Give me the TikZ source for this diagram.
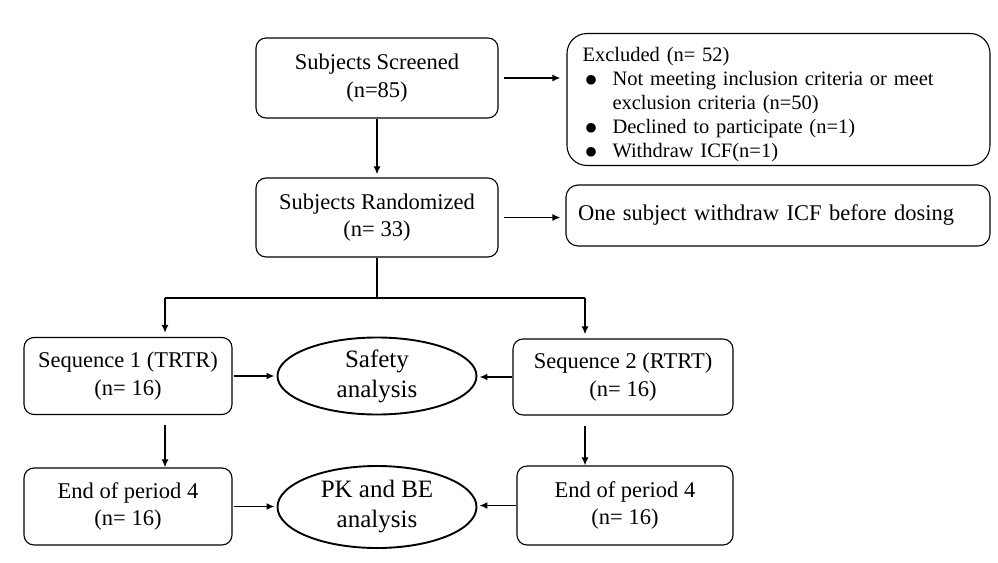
\documentclass[tikz,border=0pt]{standalone}
\usepackage{fontspec}
\setmainfont{Liberation Serif}
\usetikzlibrary{arrows.meta,shapes.geometric}

\newcommand{\bul}{\makebox[30pt][l]{\hspace*{2pt}\raisebox{-8pt}{\fontsize{40}{24}\selectfont\textbullet}}}

\begin{document}
\begin{tikzpicture}[x=1pt,y=-1pt,
  box/.style={draw,line width=1.1pt,rounded corners=10pt,align=center,inner sep=0pt,
    font=\fontsize{22.5}{27.5}\selectfont},
  lift/.style={execute at begin node={\rule{0pt}{#1}}},
  oval/.style={draw,ellipse,line width=1.9pt,align=center,inner sep=0pt,
    font=\fontsize{25}{30}\selectfont,lift=25pt},
  arr/.style={line width=1.6pt,-{Latex[length=8pt,width=7pt]}},
  link/.style={line width=1.6pt}]
  \useasboundingbox (0,0) rectangle (998,562);
  \node[box,lift=24pt,minimum width=242pt,minimum height=80pt] (scr) at (377,78) {Subjects Screened\\(n=85)};
  \node[box,minimum width=423pt,minimum height=125pt,rounded corners=20pt,text width=392pt,align=left,
    font=\fontsize{20.5}{24}\selectfont,lift=28pt] (exc) at (778.5,99.5)
    {Excluded (n= 52)\\
     \bul Not meeting inclusion criteria or meet\\
     \hspace*{30pt}exclusion criteria (n=50)\\
     \bul Declined to participate (n=1)\\
     \bul Withdraw ICF(n=1)};
  \node[box,lift=24pt,minimum width=242pt,minimum height=79pt] (rnd) at (377,217.5) {Subjects Randomized\\(n= 33)};
  \node[box,minimum width=424pt,minimum height=61pt,rounded corners=12pt,text width=400pt,align=left]
    (wdr) at (778,215.5) {One subject withdraw ICF before dosing};
  \node[box,lift=23pt,minimum width=208pt,minimum height=77pt] (seq1) at (128,376) {Sequence 1 (TRTR)\\(n= 16)};
  \node[box,lift=23pt,minimum width=220pt,minimum height=76pt] (seq2) at (623,377) {Sequence 2 (RTRT)\\(n= 16)};
  \node[oval,minimum width=199pt,minimum height=77pt] (saf) at (377,376) {Safety\\analysis};
  \node[box,lift=23pt,minimum width=208pt,minimum height=77pt] (end1) at (128,506.5) {End of period 4\\(n= 16)};
  \node[box,lift=23pt,minimum width=216pt,minimum height=79pt] (end2) at (625,505.5) {End of period 4\\(n= 16)};
  \node[oval,minimum width=199pt,minimum height=82pt] (pk) at (377,507) {PK and BE\\analysis};
  \coordinate (br) at (377,298);
  \coordinate (b1) at (165,298);
  \coordinate (b2) at (585,298);
  \draw[arr,shorten <=5pt,shorten >=6pt] (scr.east) -- (scr.east -| exc.west);
  \draw[arr,shorten >=3pt] (scr) -- (rnd);
  \draw[arr,shorten <=5pt,shorten >=5pt] (rnd.east) -- (rnd.east -| wdr.west);
  \draw[link] (rnd) -- (br);
  \draw[link] (b1) -- (b2);
  \draw[arr,shorten >=4pt] (b1) -- (b1 |- seq1.north);
  \draw[arr,shorten >=4pt] (b2) -- (b2 |- seq2.north);
  \draw[arr,shorten <=10pt] (b1 |- seq1.south) -- (b1 |- end1.north);
  \draw[arr,shorten <=10pt] (b2 |- seq2.south) -- (b2 |- end2.north);
  \draw[arr,shorten <=1pt,shorten >=2pt] (seq1.east) -- (seq1.east -| saf.west);
  \draw[arr,shorten >=2pt] (seq2.west) -- (seq2.west -| saf.east);
  \draw[arr,shorten <=1pt,shorten >=2pt] (end1.east) -- (end1.east -| pk.west);
  \draw[arr,shorten >=2pt] (end2.west) -- (end2.west -| pk.east);
\end{tikzpicture}
\end{document}
